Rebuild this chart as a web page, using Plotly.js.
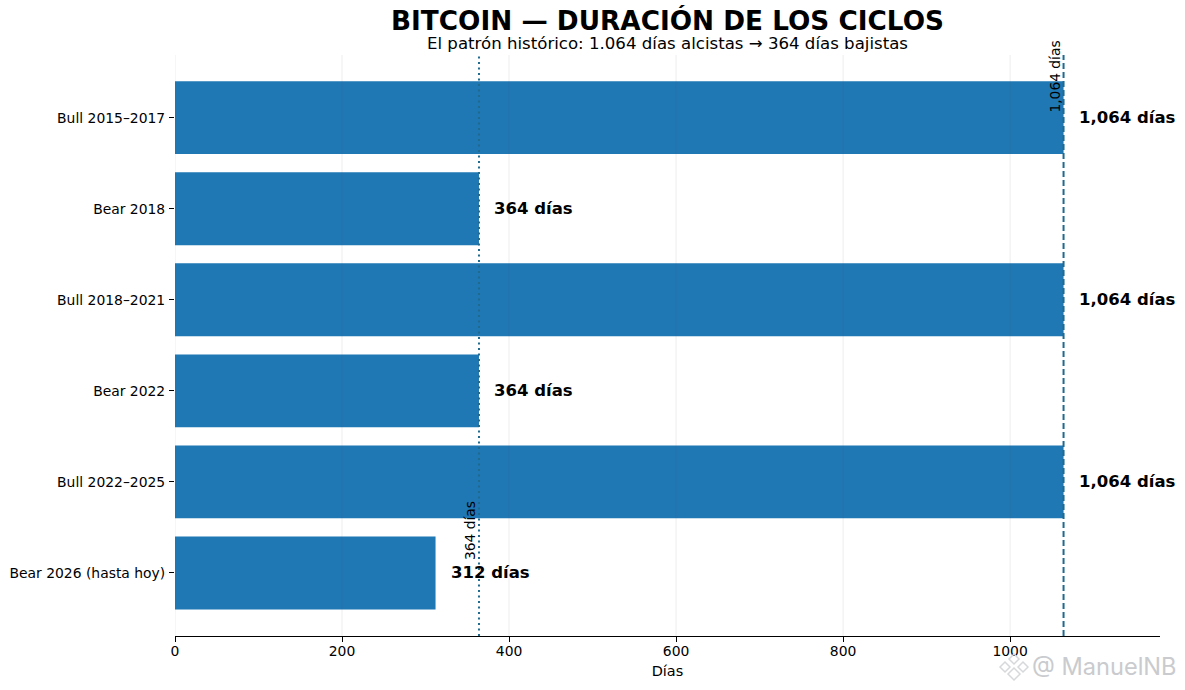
<!DOCTYPE html>
<html><head><meta charset="utf-8">
<script src="https://cdn.plot.ly/plotly-3.0.1.min.js"></script>
<style>html,body{margin:0;padding:0;background:#fff}</style></head>
<body><div id="chart" style="width:1185px;height:690px"></div>
<script>
const cycles = ["Bull 2015–2017","Bear 2018","Bull 2018–2021","Bear 2022","Bull 2022–2025","Bear 2026 (hasta hoy)"];
const days = [1064,364,1064,364,1064,312];
const valueLabels = ["1,064 días","364 días","1,064 días","364 días","1,064 días","312 días"];
const xTicks = [0,200,400,600,800,1000];
const bullRef = 1064, bearRef = 364;
const FONT = '"DejaVu Sans", sans-serif';
const L=175,T=55,W=985,H=581;
const px = v => (v-L)/W, py = v => (T+H-v)/H;
const gridShapes = xTicks.map(v => ({type:'line',layer:'above',xref:'x',yref:'paper',x0:v,x1:v,y0:0,y1:1,
  line:{color:'rgba(90,90,90,0.11)',width:1}}));
const refShapes = [
  {type:'line',layer:'above',xref:'x',yref:'paper',x0:bullRef,x1:bullRef,y0:0,y1:1,line:{color:'#1f6a8f',width:2,dash:'6px,3px'}},
  {type:'line',layer:'above',xref:'x',yref:'paper',x0:bearRef,x1:bearRef,y0:0,y1:1,line:{color:'#1f6a8f',width:2,dash:'2px,3.5px'}}
];
const diamond = (cx,cy,r) => ({type:'path',layer:'above',xref:'paper',yref:'paper',
  path:`M ${px(cx-r)} ${py(cy)} L ${px(cx)} ${py(cy-r)} L ${px(cx+r)} ${py(cy)} L ${px(cx)} ${py(cy+r)} Z`,
  line:{color:'#d6d8da',width:1.5},fillcolor:'rgba(0,0,0,0)'});
const logo = [diamond(1014,659,5),diamond(1005,667,5),diamond(1023,667,5),diamond(1014,674,6)];
const valueAnn = days.map((d,i)=>({x:d,y:cycles[i],xref:'x',yref:'y',text:valueLabels[i],showarrow:false,
  xanchor:'left',yanchor:'middle',xshift:13,font:{family:FONT,size:16.5,color:'#000',weight:700}}));
const refAnn = [
  {x:bullRef,y:py(77),xref:'x',yref:'paper',text:'1,064 días',showarrow:false,textangle:-90,xanchor:'center',yanchor:'middle',xshift:-9,font:{family:FONT,size:13.8,color:'#000'}},
  {x:bearRef,y:py(530),xref:'x',yref:'paper',text:'364 días',showarrow:false,textangle:-90,xanchor:'center',yanchor:'middle',xshift:-9,font:{family:FONT,size:13.8,color:'#000'}}
];
const wm = {x:px(1179),y:py(666),xref:'paper',yref:'paper',text:'@ ManuelNB',showarrow:false,xanchor:'right',yanchor:'middle',
  font:{family:'Inter, "Noto Sans", sans-serif',size:23.6,color:'#c9cbce'}};
const titleAnn = {x:px(667.5),y:py(43),xref:'paper',yref:'paper',text:'El patrón histórico: 1.064 días alcistas → 364 días bajistas',showarrow:false,
  xanchor:'center',yanchor:'middle',font:{family:FONT,size:16.6,color:'#000'}};
Plotly.newPlot('chart',[{type:'bar',orientation:'h',y:cycles,x:days,width:0.8,marker:{color:'#1f77b4',line:{width:0}},hoverinfo:'skip'}],{
  width:1185,height:690,paper_bgcolor:'#fff',plot_bgcolor:'#fff',showlegend:false,
  margin:{l:L,r:1185-L-W,t:T,b:690-T-H,pad:0},
  title:{text:'<b>BITCOIN — DURACIÓN DE LOS CICLOS</b>',x:667.5/1185,xanchor:'center',y:1-21/690,yanchor:'middle',font:{family:FONT,size:26.3,color:'#000'}},
  xaxis:{range:[0,1179.5],tickvals:xTicks,ticktext:xTicks.map(String),showgrid:false,zeroline:false,showline:true,linecolor:'#000',linewidth:1.3,
    ticks:'outside',ticklen:5,tickcolor:'#000',tickwidth:1,tickfont:{family:FONT,size:13.9,color:'#000'},ticklabelstandoff:-3,
    title:{text:'Días',standoff:8,font:{family:FONT,size:14.5,color:'#000'}}},
  yaxis:{type:'category',categoryorder:'array',categoryarray:cycles,range:[5.692,-0.688],showgrid:false,zeroline:false,showline:false,
    ticks:'outside',ticklen:5,tickcolor:'#000',tickwidth:1,tickfont:{family:FONT,size:13.9,color:'#000'},ticklabelstandoff:1},
  shapes:[...gridShapes,...refShapes,...logo],
  annotations:[...valueAnn,...refAnn,titleAnn,wm]
},{displayModeBar:false,responsive:false});
</script></body></html>
